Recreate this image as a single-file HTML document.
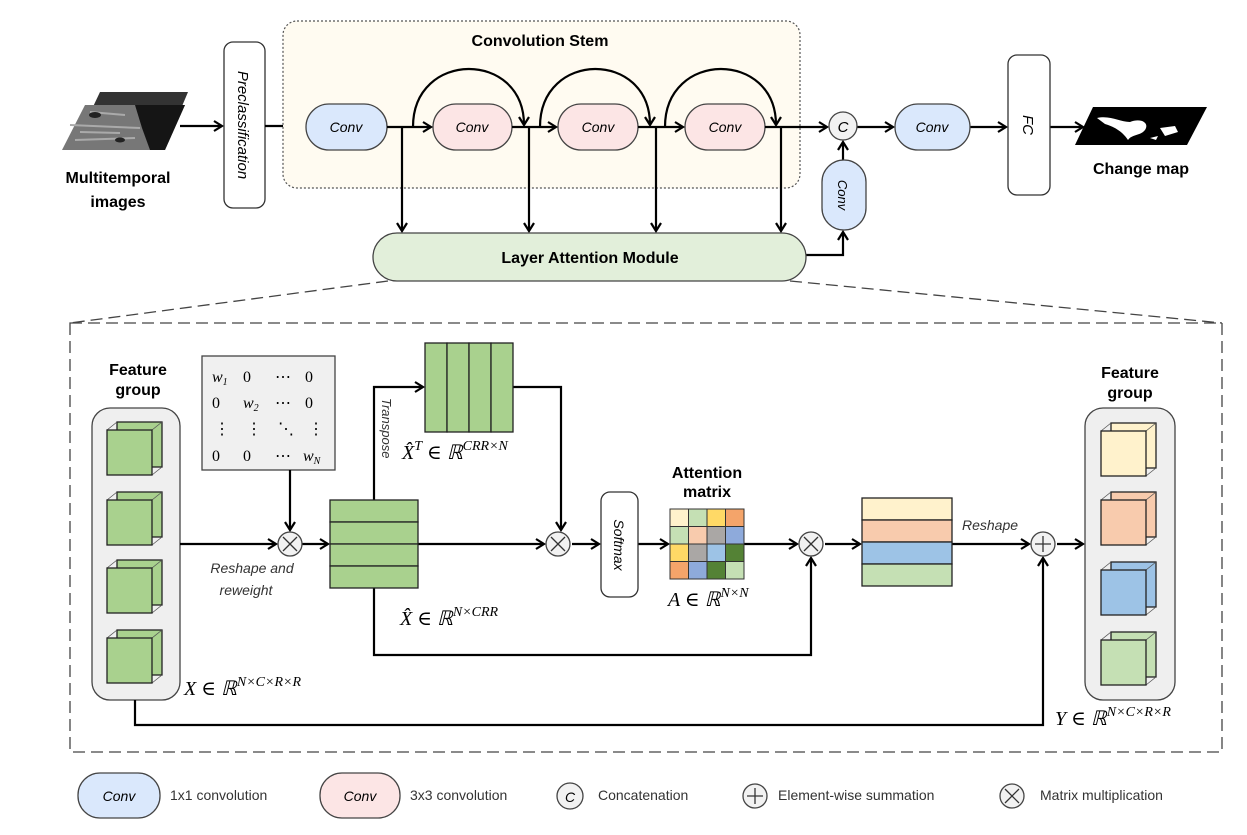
<!DOCTYPE html>
<html><head><meta charset="utf-8"><style>
html,body{margin:0;padding:0;background:#fff;}
svg{display:block;font-family:"Liberation Sans","DejaVu Sans",sans-serif;}
.it{font-style:italic;}
.m{font-family:"Liberation Serif","DejaVu Serif",serif;}
</style></head><body>
<svg width="1247" height="835" viewBox="0 0 1247 835" xmlns="http://www.w3.org/2000/svg">
<defs>
<marker id="a" markerWidth="12" markerHeight="12" refX="9" refY="6" orient="auto" markerUnits="userSpaceOnUse">
<path d="M1,1 L9,6 L1,11" fill="none" stroke="#000" stroke-width="2.2"/>
</marker>
<g id="cube">
<rect x="10" y="-8" width="45" height="45" stroke="#222" stroke-width="1.3"/>
<path d="M0,0 L10,-8 M45,0 L55,-8 M45,45 L55,37" stroke="#555" stroke-width="0.8" fill="none"/>
<rect x="0" y="0" width="45" height="45" stroke="#222" stroke-width="1.3"/>
</g>
</defs>

<!-- input images -->
<polygon points="100,92 188,92 172,130 82,130" fill="#333"/>
<polygon points="85,105 185,105 165,150 62,150" fill="#777"/>
<polygon points="135,105 185,105 165,150 150,150 142,128" fill="#151515"/>
<path d="M70,125 L140,128 M75,140 L135,138 M90,112 L125,115 M80,132 L120,133" stroke="#aaa" stroke-width="2"/>
<ellipse cx="95" cy="115" rx="6" ry="3" fill="#222"/>
<ellipse cx="120" cy="140" rx="5" ry="2.5" fill="#222"/>
<text x="118" y="183" font-size="16" font-weight="bold" text-anchor="middle">Multitemporal</text>
<text x="118" y="207" font-size="16" font-weight="bold" text-anchor="middle">images</text>
<line x1="180" y1="126" x2="222" y2="126" stroke="#000" stroke-width="2.2" marker-end="url(#a)"/>

<rect x="224" y="42" width="41" height="166" rx="9" fill="#fff" stroke="#333" stroke-width="1.3"/>
<text transform="translate(238,125) rotate(90)" font-size="15" class="it" text-anchor="middle">Preclassification</text>
<line x1="265" y1="126" x2="304" y2="126" stroke="#000" stroke-width="2.2" marker-end="url(#a)"/>

<rect x="283" y="21" width="517" height="167" rx="14" fill="#fffbf1" stroke="#555" stroke-width="1.2" stroke-dasharray="2,2"/>
<text x="540" y="46" font-size="16" font-weight="bold" text-anchor="middle">Convolution Stem</text>

<rect x="306" y="104" width="81" height="46" rx="23" fill="#dae8fc" stroke="#444" stroke-width="1.3"/>
<text x="346" y="132" font-size="14" class="it" text-anchor="middle">Conv</text>
<rect x="433" y="104" width="79" height="46" rx="23" fill="#fce5e5" stroke="#444" stroke-width="1.3"/>
<text x="472" y="132" font-size="14" class="it" text-anchor="middle">Conv</text>
<rect x="558" y="104" width="80" height="46" rx="23" fill="#fce5e5" stroke="#444" stroke-width="1.3"/>
<text x="598" y="132" font-size="14" class="it" text-anchor="middle">Conv</text>
<rect x="685" y="104" width="80" height="46" rx="23" fill="#fce5e5" stroke="#444" stroke-width="1.3"/>
<text x="725" y="132" font-size="14" class="it" text-anchor="middle">Conv</text>

<g stroke="#000" stroke-width="2.2" fill="none">
<line x1="387" y1="127" x2="431" y2="127" marker-end="url(#a)"/>
<line x1="512" y1="127" x2="556" y2="127" marker-end="url(#a)"/>
<line x1="638" y1="127" x2="683" y2="127" marker-end="url(#a)"/>
<line x1="765" y1="127" x2="827" y2="127" marker-end="url(#a)"/>
<path d="M413,127 C413,50 524,50 524,125" marker-end="url(#a)"/>
<path d="M540,127 C540,50 650,50 650,125" marker-end="url(#a)"/>
<path d="M665,127 C665,50 776,50 776,125" marker-end="url(#a)"/>
<line x1="402" y1="127" x2="402" y2="231" marker-end="url(#a)"/>
<line x1="529" y1="127" x2="529" y2="231" marker-end="url(#a)"/>
<line x1="656" y1="127" x2="656" y2="231" marker-end="url(#a)"/>
<line x1="781" y1="127" x2="781" y2="231" marker-end="url(#a)"/>
<line x1="857" y1="127" x2="893" y2="127" marker-end="url(#a)"/>
<line x1="970" y1="127" x2="1006" y2="127" marker-end="url(#a)"/>
<line x1="1050" y1="127" x2="1083" y2="127" marker-end="url(#a)"/>
<line x1="843" y1="160" x2="843" y2="142" marker-end="url(#a)"/>
<path d="M806,255 L843,255 L843,232" marker-end="url(#a)"/>
</g>

<circle cx="843" cy="126" r="14" fill="#f2f2f2" stroke="#444" stroke-width="1.3"/>
<text x="843" y="132" font-size="15" class="it" text-anchor="middle">C</text>
<rect x="822" y="160" width="44" height="70" rx="22" fill="#dae8fc" stroke="#444" stroke-width="1.3"/>
<text transform="translate(838,195) rotate(90)" font-size="13" class="it" text-anchor="middle">Conv</text>
<rect x="895" y="104" width="75" height="46" rx="23" fill="#dae8fc" stroke="#444" stroke-width="1.3"/>
<text x="932" y="132" font-size="14" class="it" text-anchor="middle">Conv</text>
<rect x="1008" y="55" width="42" height="140" rx="9" fill="#fff" stroke="#333" stroke-width="1.3"/>
<text transform="translate(1023,125) rotate(90)" font-size="15" class="it" text-anchor="middle">FC</text>

<polygon points="1093,107 1207,107 1187,145 1075,145" fill="#000"/>
<path d="M1097,118 C1110,115 1120,122 1130,122 C1140,118 1150,122 1145,130 C1140,136 1132,134 1128,140 C1124,134 1118,128 1105,124 Z M1160,128 L1175,126 L1178,132 L1165,136 Z M1150,138 L1158,136 L1156,140 Z" fill="#fff"/>
<text x="1141" y="174" font-size="16" font-weight="bold" text-anchor="middle">Change map</text>

<rect x="373" y="233" width="433" height="48" rx="24" fill="#e2efda" stroke="#444" stroke-width="1.3"/>
<text x="590" y="263" font-size="16" font-weight="bold" text-anchor="middle">Layer Attention Module</text>

<g stroke="#444" stroke-width="1.3" stroke-dasharray="12,6" fill="none">
<line x1="388" y1="281" x2="70" y2="323"/>
<line x1="790" y1="281" x2="1222" y2="323"/>
<rect x="70" y="323" width="1152" height="429"/>
</g>

<!-- left feature group -->
<text x="138" y="375" font-size="16" font-weight="bold" text-anchor="middle">Feature</text>
<text x="138" y="395" font-size="16" font-weight="bold" text-anchor="middle">group</text>
<rect x="92" y="408" width="88" height="292" rx="18" fill="#efefef" stroke="#444" stroke-width="1.3"/>
<g fill="#a9d18e">
<use href="#cube" x="107" y="430"/><use href="#cube" x="107" y="500"/>
<use href="#cube" x="107" y="568"/><use href="#cube" x="107" y="638"/>
</g>
<text x="184" y="695" font-size="20" class="it m">X ∈ ℝ<tspan font-size="14" dy="-9">N×C×R×R</tspan></text>

<!-- diag matrix -->
<rect x="202" y="356" width="133" height="114" fill="#f0f0f0" stroke="#444" stroke-width="1.3"/>
<g font-size="16" class="m">
<text x="212" y="382" class="it">w<tspan font-size="10" dy="3">1</tspan></text><text x="243" y="382">0</text><text x="275" y="382">⋯</text><text x="305" y="382">0</text>
<text x="212" y="408">0</text><text x="243" y="408" class="it">w<tspan font-size="10" dy="3">2</tspan></text><text x="275" y="408">⋯</text><text x="305" y="408">0</text>
<text x="214" y="434">⋮</text><text x="246" y="434">⋮</text><text x="278" y="434">⋱</text><text x="308" y="434">⋮</text>
<text x="212" y="461">0</text><text x="243" y="461">0</text><text x="275" y="461">⋯</text><text x="303" y="461" class="it">w<tspan font-size="10" dy="3">N</tspan></text>
</g>

<g stroke="#000" stroke-width="2.2" fill="none">
<line x1="290" y1="470" x2="290" y2="530" marker-end="url(#a)"/>
<line x1="180" y1="544" x2="276" y2="544" marker-end="url(#a)"/>
<line x1="302" y1="544" x2="328" y2="544" marker-end="url(#a)"/>
<path d="M374,500 L374,387 L423,387" marker-end="url(#a)"/>
<path d="M513,387 L561,387 L561,530" marker-end="url(#a)"/>
<line x1="418" y1="544" x2="544" y2="544" marker-end="url(#a)"/>
<line x1="572" y1="544" x2="599" y2="544" marker-end="url(#a)"/>
<line x1="638" y1="544" x2="668" y2="544" marker-end="url(#a)"/>
<line x1="744" y1="544" x2="797" y2="544" marker-end="url(#a)"/>
<line x1="825" y1="544" x2="860" y2="544" marker-end="url(#a)"/>
<path d="M374,588 L374,655 L811,655 L811,558" marker-end="url(#a)"/>
<line x1="952" y1="544" x2="1029" y2="544" marker-end="url(#a)"/>
<path d="M135,700 L135,725 L1043,725 L1043,558" marker-end="url(#a)"/>
<line x1="1057" y1="544" x2="1083" y2="544" marker-end="url(#a)"/>
</g>

<circle cx="290" cy="544" r="12" fill="#f2f2f2" stroke="#444" stroke-width="1.3"/>
<path d="M283,537 L297,551 M297,537 L283,551" stroke="#333" stroke-width="1.3"/>
<text x="252" y="573" font-size="14" class="it" text-anchor="middle" fill="#333">Reshape and</text>
<text x="246" y="595" font-size="14" class="it" text-anchor="middle" fill="#333">reweight</text>

<g fill="#a9d18e" stroke="#222" stroke-width="1.3">
<rect x="330" y="500" width="88" height="22"/><rect x="330" y="522" width="88" height="22"/>
<rect x="330" y="544" width="88" height="22"/><rect x="330" y="566" width="88" height="22"/>
<rect x="425" y="343" width="22" height="89"/><rect x="447" y="343" width="22" height="89"/>
<rect x="469" y="343" width="22" height="89"/><rect x="491" y="343" width="22" height="89"/>
</g>
<text x="400" y="625" font-size="20" class="it m">X̂ ∈ ℝ<tspan font-size="14" dy="-9">N×CRR</tspan></text>
<text x="402" y="459" font-size="20" class="it m">X̂<tspan font-size="14" dy="-9">T</tspan><tspan dy="9"> ∈ ℝ</tspan><tspan font-size="14" dy="-9">CRR×N</tspan></text>
<text transform="translate(382,398) rotate(90)" font-size="13" class="it" fill="#333">Transpose</text>

<circle cx="558" cy="544" r="12" fill="#f2f2f2" stroke="#444" stroke-width="1.3"/>
<path d="M551,537 L565,551 M565,537 L551,551" stroke="#333" stroke-width="1.3"/>

<rect x="601" y="492" width="37" height="105" rx="9" fill="#fff" stroke="#333" stroke-width="1.3"/>
<text transform="translate(614,545) rotate(90)" font-size="14" class="it" text-anchor="middle">Softmax</text>

<text x="707" y="478" font-size="16" font-weight="bold" text-anchor="middle">Attention</text>
<text x="707" y="497" font-size="16" font-weight="bold" text-anchor="middle">matrix</text>
<g stroke="#333" stroke-width="1">
<rect x="670" y="509" width="18.5" height="17.5" fill="#fff2cc"/><rect x="688.5" y="509" width="18.5" height="17.5" fill="#c5e0b4"/><rect x="707" y="509" width="18.5" height="17.5" fill="#ffd966"/><rect x="725.5" y="509" width="18.5" height="17.5" fill="#f4a46a"/>
<rect x="670" y="526.5" width="18.5" height="17.5" fill="#c5e0b4"/><rect x="688.5" y="526.5" width="18.5" height="17.5" fill="#f8cbad"/><rect x="707" y="526.5" width="18.5" height="17.5" fill="#aaa7a5"/><rect x="725.5" y="526.5" width="18.5" height="17.5" fill="#8eaadb"/>
<rect x="670" y="544" width="18.5" height="17.5" fill="#ffd966"/><rect x="688.5" y="544" width="18.5" height="17.5" fill="#aaa7a5"/><rect x="707" y="544" width="18.5" height="17.5" fill="#9dc3e6"/><rect x="725.5" y="544" width="18.5" height="17.5" fill="#548235"/>
<rect x="670" y="561.5" width="18.5" height="17.5" fill="#f4a46a"/><rect x="688.5" y="561.5" width="18.5" height="17.5" fill="#8eaadb"/><rect x="707" y="561.5" width="18.5" height="17.5" fill="#548235"/><rect x="725.5" y="561.5" width="18.5" height="17.5" fill="#c5e0b4"/>
</g>
<text x="668" y="606" font-size="20" class="it m">A ∈ ℝ<tspan font-size="14" dy="-9">N×N</tspan></text>

<circle cx="811" cy="544" r="12" fill="#f2f2f2" stroke="#444" stroke-width="1.3"/>
<path d="M804,537 L818,551 M818,537 L804,551" stroke="#333" stroke-width="1.3"/>

<g stroke="#222" stroke-width="1.3">
<rect x="862" y="498" width="90" height="22" fill="#fff2cc"/><rect x="862" y="520" width="90" height="22" fill="#f8cbad"/>
<rect x="862" y="542" width="90" height="22" fill="#9dc3e6"/><rect x="862" y="564" width="90" height="22" fill="#c5e0b4"/>
</g>
<text x="990" y="530" font-size="14" class="it" text-anchor="middle" fill="#333">Reshape</text>

<circle cx="1043" cy="544" r="12" fill="#f2f2f2" stroke="#444" stroke-width="1.3"/>
<path d="M1035,544 L1051,544 M1043,536 L1043,552" stroke="#333" stroke-width="1.3"/>

<text x="1130" y="378" font-size="16" font-weight="bold" text-anchor="middle">Feature</text>
<text x="1130" y="398" font-size="16" font-weight="bold" text-anchor="middle">group</text>
<rect x="1085" y="408" width="90" height="292" rx="18" fill="#efefef" stroke="#444" stroke-width="1.3"/>
<use href="#cube" x="1101" y="431" fill="#fff2cc"/>
<use href="#cube" x="1101" y="500" fill="#f8cbad"/>
<use href="#cube" x="1101" y="570" fill="#9dc3e6"/>
<use href="#cube" x="1101" y="640" fill="#c5e0b4"/>
<text x="1055" y="725" font-size="20" class="it m">Y ∈ ℝ<tspan font-size="14" dy="-9">N×C×R×R</tspan></text>

<!-- legend -->
<rect x="78" y="773" width="82" height="45" rx="22" fill="#dae8fc" stroke="#444" stroke-width="1.3"/>
<text x="119" y="801" font-size="14" class="it" text-anchor="middle">Conv</text>
<text x="170" y="800" font-size="14" fill="#333">1x1 convolution</text>
<rect x="320" y="773" width="80" height="45" rx="22" fill="#fce5e5" stroke="#444" stroke-width="1.3"/>
<text x="360" y="801" font-size="14" class="it" text-anchor="middle">Conv</text>
<text x="410" y="800" font-size="14" fill="#333">3x3 convolution</text>
<circle cx="570" cy="796" r="13" fill="#f2f2f2" stroke="#444" stroke-width="1.3"/>
<text x="570" y="802" font-size="14" class="it" text-anchor="middle">C</text>
<text x="598" y="800" font-size="14" fill="#333">Concatenation</text>
<circle cx="755" cy="796" r="12" fill="#f2f2f2" stroke="#444" stroke-width="1.3"/>
<path d="M747,796 L763,796 M755,788 L755,804" stroke="#333" stroke-width="1.3"/>
<text x="778" y="800" font-size="14" fill="#333">Element-wise summation</text>
<circle cx="1012" cy="796" r="12" fill="#f2f2f2" stroke="#444" stroke-width="1.3"/>
<path d="M1005,789 L1019,803 M1019,789 L1005,803" stroke="#333" stroke-width="1.3"/>
<text x="1040" y="800" font-size="14" fill="#333">Matrix multiplication</text>
</svg>
</body></html>
